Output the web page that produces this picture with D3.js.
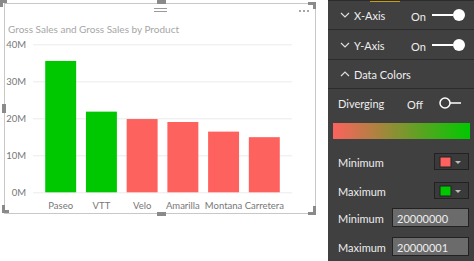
<!DOCTYPE html>
<html>
<head>
<meta charset="utf-8">
<script src="https://cdn.jsdelivr.net/npm/d3@7"></script>
<style>
  body { margin: 0; background: #fff; }
  svg text { font-family: Lato, "Open Sans", sans-serif; }
</style>
</head>
<body>
<div id="chart"></div>
<script>
const products = ["Paseo", "VTT", "Velo", "Amarilla", "Montana", "Carretera"];
const grossSales = [35.5e6, 21.8e6, 19.8e6, 19.0e6, 16.4e6, 14.9e6];
const yTicks = [0, 10e6, 20e6, 30e6, 40e6];
const colorMin = "#fd625e";
const colorMax = "#00c800";
const divergeMin = 20000000;
const divergeMax = 20000001;

const width = 474, height = 261;

const svg = d3.select("#chart")
  .append("svg")
  .attr("width", width)
  .attr("height", height);

// ---- visual frame ----
svg.append("rect")
  .attr("x", 4.5).attr("y", 3.5)
  .attr("width", 311).attr("height", 210)
  .attr("fill", "#fff")
  .attr("stroke", "#c8c8c8");

const handle = "#8a8a8a";
[[0, 0, 7, 3], [0, 0, 3, 7], [308, 2, 8, 3], [313, 2, 3, 7],
 [2, 210, 7, 3], [2, 205, 3, 8], [308, 212, 8, 3], [313, 206, 3, 9],
 [157, 0, 9, 4], [157, 212, 9, 4], [2, 104, 4, 9]].forEach(r => {
  svg.append("rect")
    .attr("x", r[0]).attr("y", r[1])
    .attr("width", r[2]).attr("height", r[3])
    .attr("fill", handle);
});

// drag grip and ellipsis
[8.5, 11.5].forEach(y => {
  svg.append("line")
    .attr("x1", 154).attr("x2", 167)
    .attr("y1", y).attr("y2", y)
    .attr("stroke", "#9a9a9a");
});
[300, 304, 308].forEach(x => {
  svg.append("circle")
    .attr("cx", x).attr("cy", 11).attr("r", 1)
    .attr("fill", "#8a8a8a");
});

svg.append("text")
  .attr("x", 8).attr("y", 33)
  .attr("font-size", 10)
  .attr("fill", "#a6a6a6")
  .text("Gross Sales and Gross Sales by Product");

// ---- chart ----
const x = d3.scaleBand()
  .domain(products)
  .range([33, 292])
  .paddingInner(0.24)
  .paddingOuter(0.3);

const y = d3.scaleLinear()
  .domain([0, 40e6])
  .range([192.3, 44.3]);

const fmt = d => (d / 1e6) + "M";

const yAxis = svg.append("g")
  .attr("transform", "translate(33,0)")
  .call(d3.axisLeft(y).tickValues(yTicks).tickFormat(fmt).tickSize(-259).tickPadding(7));
yAxis.select(".domain").remove();
yAxis.selectAll("line").attr("stroke", "#ececec");
yAxis.selectAll("text")
  .attr("font-size", 9.5)
  .attr("fill", "#777")
  .style("font-family", "Lato, sans-serif");

const color = v => v > divergeMin ? colorMax : colorMin;

svg.append("g")
  .selectAll("rect")
  .data(products)
  .join("rect")
  .attr("x", d => x(d))
  .attr("y", (d, i) => y(grossSales[i]))
  .attr("width", x.bandwidth())
  .attr("height", (d, i) => y(0) - y(grossSales[i]))
  .attr("fill", (d, i) => color(grossSales[i]));

const xAxis = svg.append("g")
  .attr("transform", "translate(0,192)")
  .call(d3.axisBottom(x).tickSize(0).tickPadding(10));
xAxis.select(".domain").remove();
xAxis.selectAll("text")
  .attr("font-size", 9.5)
  .attr("fill", "#777")
  .style("font-family", "Lato, sans-serif");

// ---- format pane ----
const pane = svg.append("g");
pane.append("rect")
  .attr("x", 328).attr("y", 0)
  .attr("width", 146).attr("height", height)
  .attr("fill", "#404040");
pane.append("rect")
  .attr("x", 370).attr("y", 0)
  .attr("width", 30).attr("height", 2)
  .attr("fill", "#c8a000");

[0.5, 29.5, 59.5, 88.5].forEach(yy => {
  pane.append("line")
    .attr("x1", 328).attr("x2", 474)
    .attr("y1", yy).attr("y2", yy)
    .attr("stroke", "#2c2c2c");
});

const paneText = (tx, ty, s, size, fill) => pane.append("text")
  .attr("x", tx).attr("y", ty)
  .attr("font-size", size || 11)
  .attr("fill", fill || "#eee")
  .attr("dominant-baseline", "central")
  .text(s);

const chevron = (cx, cy, up) => pane.append("path")
  .attr("d", up
    ? `M${cx - 4},${cy + 2}L${cx},${cy - 2}L${cx + 4},${cy + 2}`
    : `M${cx - 4},${cy - 2}L${cx},${cy + 2}L${cx + 4},${cy - 2}`)
  .attr("fill", "none")
  .attr("stroke", "#ddd")
  .attr("stroke-width", 1.2);

const toggleOn = cy => {
  pane.append("line")
    .attr("x1", 432).attr("x2", 453)
    .attr("y1", cy).attr("y2", cy)
    .attr("stroke", "#fff").attr("stroke-width", 2);
  pane.append("circle")
    .attr("cx", 459).attr("cy", cy).attr("r", 6)
    .attr("fill", "#fff");
};

chevron(345, 15, false);
paneText(354, 15, "X-Axis");
paneText(411, 16, "On");
toggleOn(15);

chevron(345, 45, false);
paneText(354, 45, "Y-Axis");
paneText(411, 46, "On");
toggleOn(45);

chevron(345, 74, true);
paneText(354, 74, "Data Colors");

paneText(338, 103, "Diverging");
paneText(407, 104, "Off");
pane.append("circle")
  .attr("cx", 445).attr("cy", 103).attr("r", 5)
  .attr("fill", "none").attr("stroke", "#fff").attr("stroke-width", 1.5);
pane.append("line")
  .attr("x1", 450).attr("x2", 461)
  .attr("y1", 103).attr("y2", 103)
  .attr("stroke", "#fff").attr("stroke-width", 1.5);

// gradient swatch
const interp = d3.interpolateRgb(colorMin, colorMax);
const grad = svg.append("defs").append("linearGradient")
  .attr("id", "divg");
grad.selectAll("stop")
  .data(d3.range(0, 1.01, 0.1))
  .join("stop")
  .attr("offset", d => d)
  .attr("stop-color", d => interp(d));
pane.append("rect")
  .attr("x", 333).attr("y", 123)
  .attr("width", 137).attr("height", 16)
  .attr("fill", "url(#divg)");

const swatch = (cy, c, label) => {
  paneText(338, cy, label);
  pane.append("rect")
    .attr("x", 434.5).attr("y", cy - 8.5)
    .attr("width", 34).attr("height", 16)
    .attr("fill", "#3a3a3a").attr("stroke", "#222");
  pane.append("rect")
    .attr("x", 440).attr("y", cy - 5)
    .attr("width", 11).attr("height", 10)
    .attr("fill", c).attr("stroke", "#222");
  pane.append("path")
    .attr("d", `M${455},${cy - 1}L${461},${cy - 1}L${458},${cy + 2}Z`)
    .attr("fill", "#bbb");
};
swatch(162, colorMin, "Minimum");
swatch(191, colorMax, "Maximum");

const field = (cy, label, v) => {
  paneText(338, cy, label);
  pane.append("rect")
    .attr("x", 392.5).attr("y", cy - 9.5)
    .attr("width", 76).attr("height", 18)
    .attr("fill", "#6b6b6b").attr("stroke", "#222");
  paneText(397, cy, String(v));
};
field(218, "Minimum", divergeMin);
field(247, "Maximum", divergeMax);
</script>
</body>
</html>
